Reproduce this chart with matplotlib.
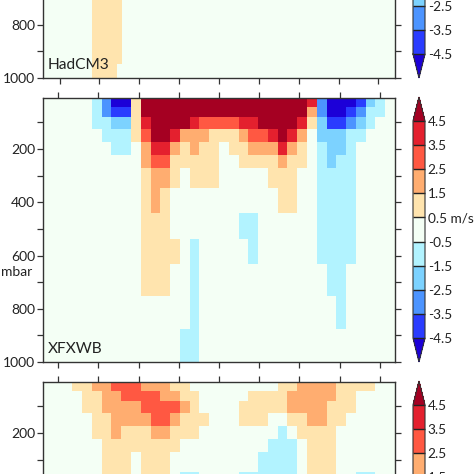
import numpy as np
import matplotlib
matplotlib.use('Agg')
import matplotlib.pyplot as plt
from matplotlib.colors import BoundaryNorm, ListedColormap

plt.rcParams['font.family'] = ['Lato', 'DejaVu Sans']

# colour classes, lowest to highest
under_color = '#1C00D8'
class_colors = ['#2A3CFF', '#4C94FF', '#7CD2FF', '#B2F3FF', '#F4FFF5',
                '#FFE4AE', '#FFAD70', '#FF5842', '#E4202E']
over_color = '#A50022'
levels = [-4.5, -3.5, -2.5, -1.5, -0.5, 0.5, 1.5, 2.5, 3.5, 4.5]

# labels that lie off the picture are left empty
had_bar_labels = ['-4.5', '-3.5', '-2.5', '', '', '', '', '', '', '']
xfxwb_bar_labels = ['-4.5', '-3.5', '-2.5', '-1.5', '-0.5', '0.5 m/s', '1.5', '2.5', '3.5', '4.5']
bottom_bar_labels = ['', '', '', '', '', '', '1.5', '2.5', '3.5', '4.5']

pressure_ticks = [100, 200, 300, 400, 500, 600, 700, 800, 900, 1000]
had_pressure_labels = ['', '', '', '', '', '', '', '800', '', '1000']
xfxwb_pressure_labels = ['', '200', '', '400', '', '600', '', '800', '', '1000']
bottom_pressure_labels = ['', '200', '', '', '', '', '', '', '', '']
lat_ticks = [-80, -60, -40, -20, 0, 20, 40, 60, 80]

# grid shared by the two lower panels
lat_edges = np.linspace(-87.5, 87.5, 37)
p_edges = [8, 42, 80, 125, 174, 223, 271, 346, 440, 538, 632, 752, 876, 1000]

# top panel has its own finer grid near the surface
had_lat_edges = [-88.3, -63.5, -51.0, -48.6, 88.3]
had_p_edges = [8, 947, 1000]
had_values = [[0, 1, 1, 0],
              [0, 1, 0, 0]]

xfxwb_values = [
    [0, 0, 0, 0, 0, -1, -3, -5, -5, 1, 5, 5, 5, 5, 5, 5, 5, 5, 5, 5, 5, 5, 5, 5, 5, 5, 5, 4, -3, -5, -5, -5, -4, -2, -1, 0],
    [0, 0, 0, 0, 0, -1, -3, -4, -4, 1, 5, 5, 5, 5, 5, 5, 5, 5, 5, 5, 5, 5, 5, 5, 5, 5, 5, 2, -3, -5, -5, -4, -3, -1, -1, 0],
    [0, 0, 0, 0, 0, -1, -1, -2, -2, 1, 4, 5, 5, 5, 5, 4, 3, 3, 3, 3, 4, 4, 5, 5, 5, 5, 4, 1, -2, -4, -4, -3, -2, -1, 0, 0],
    [0, 0, 0, 0, 0, 0, -1, -1, -1, 1, 3, 5, 5, 4, 2, 2, 2, 1, 1, 1, 2, 3, 3, 4, 5, 4, 2, 0, -2, -2, -2, -1, -1, 0, 0, 0],
    [0, 0, 0, 0, 0, 0, 0, -1, -1, 0, 2, 4, 4, 2, 1, 2, 1, 1, 0, 1, 1, 2, 2, 2, 4, 2, 1, 0, -1, -2, -2, -1, 0, 0, 0, 0],
    [0, 0, 0, 0, 0, 0, 0, 0, 0, 0, 2, 3, 3, 1, 1, 1, 1, 1, 0, 0, 1, 1, 1, 1, 2, 1, 1, 0, -1, -2, -1, -1, 0, 0, 0, 0],
    [0, 0, 0, 0, 0, 0, 0, 0, 0, 0, 1, 2, 2, 1, 0, 1, 1, 1, 0, 0, 0, 0, 0, 1, 1, 1, 0, 0, -1, -1, -1, -1, 0, 0, 0, 0],
    [0, 0, 0, 0, 0, 0, 0, 0, 0, 0, 1, 2, 1, 0, 0, 0, 0, 0, 0, 0, 0, 0, 0, 0, 1, 1, 0, 0, -1, -1, -1, -1, 0, 0, 0, 0],
    [0, 0, 0, 0, 0, 0, 0, 0, 0, 0, 1, 1, 1, 0, 0, 0, 0, 0, 0, 0, -1, -1, 0, 0, 0, 0, 0, 0, -1, -1, -1, -1, 0, 0, 0, 0],
    [0, 0, 0, 0, 0, 0, 0, 0, 0, 0, 1, 1, 1, 1, 0, -1, 0, 0, 0, 0, 0, -1, 0, 0, 0, 0, 0, 0, -1, -1, -1, -1, 0, 0, 0, 0],
    [0, 0, 0, 0, 0, 0, 0, 0, 0, 0, 1, 1, 1, 0, 0, -1, 0, 0, 0, 0, 0, 0, 0, 0, 0, 0, 0, 0, 0, -1, -1, 0, 0, 0, 0, 0],
    [0, 0, 0, 0, 0, 0, 0, 0, 0, 0, 0, 0, 0, 0, 0, -1, 0, 0, 0, 0, 0, 0, 0, 0, 0, 0, 0, 0, 0, 0, -1, 0, 0, 0, 0, 0],
    [0, 0, 0, 0, 0, 0, 0, 0, 0, 0, 0, 0, 0, 0, -1, -1, 0, 0, 0, 0, 0, 0, 0, 0, 0, 0, 0, 0, 0, 0, 0, 0, 0, 0, 0, 0],
]

# only the upper rows of the bottom panel are in the picture
bottom_values = [
    [0, 0, 0, 1, 1, 2, 2, 3, 3, 3, 2, 2, 2, 1, 1, 0, 0, 0, 0, 0, 0, 0, 0, 0, 1, 1, 2, 2, 2, 2, 1, 1, 1, 1, 0, 0],
    [0, 0, 0, 0, 1, 1, 2, 2, 3, 3, 3, 3, 2, 2, 1, 1, 0, 0, 0, 0, 0, 1, 1, 1, 1, 2, 2, 2, 2, 2, 1, 1, 0, 0, 0, 0],
    [0, 0, 0, 0, 1, 1, 2, 2, 2, 2, 3, 3, 3, 3, 2, 1, 0, 0, 0, 0, 1, 1, 1, 1, 1, 2, 2, 2, 2, 1, 1, 1, 0, 0, 0, 0],
    [0, 0, 0, 0, 0, 1, 1, 2, 2, 2, 2, 3, 3, 2, 1, 1, 1, 0, 0, 0, 1, 1, 1, 0, 0, 1, 1, 2, 2, 1, 1, 0, 0, 0, 0, 0],
    [0, 0, 0, 0, 0, 1, 1, 2, 1, 1, 1, 2, 2, 1, 1, 1, 0, 0, 0, 0, 0, 0, 0, 0, -1, 0, 1, 1, 1, 1, 0, 0, 0, 0, 0, 0],
    [0, 0, 0, 0, 0, 0, 1, 1, 1, 1, 1, 1, 1, 1, 0, 0, 0, 0, 0, 0, 0, 0, 0, -1, -1, -1, 0, 1, 1, 1, 0, 0, 0, 0, 0, 0],
    [0, 0, 0, 0, 0, 0, 1, 1, 1, 0, 1, 1, 1, 0, 0, 0, 0, 0, 0, 0, 0, 0, -1, -1, -1, -1, 0, 1, 1, 1, 0, 0, 0, 0, 0, 0],
    [0, 0, 0, 0, 0, 0, 1, 1, 1, 0, 1, 1, 1, 0, -1, -1, 0, 0, 0, 0, -1, -1, -1, -1, -1, -1, 0, 1, 1, 1, 0, 0, -1, -1, 0, 0],
]

FIG_PX = 474
LINE_COLOR = '#333333'
TEXT_COLOR = '#222222'


def px_box(left, top, right, bottom):
    """
    converts a box in picture pixels (y going down) to figure fractions
    :return: [left, bottom, width, height]
    """
    return [left / FIG_PX, 1 - bottom / FIG_PX, (right - left) / FIG_PX, (bottom - top) / FIG_PX]


def draw_panel(fig, top, x_edges, y_edges, values, half_width, p_labels, bar_labels, name=None):
    """
    draws one latitude-pressure panel and its colour bar
    :param top: the pixel row of the panel's top edge, can be off the picture
    :param half_width: half of the latitude range of the x axis
    :return: the axes
    """
    cmap = ListedColormap(class_colors)
    cmap.set_under(under_color)
    cmap.set_over(over_color)
    norm = BoundaryNorm(levels, cmap.N)

    ax = fig.add_axes(px_box(43, top, 395, top + 264))
    mesh = ax.pcolormesh(x_edges, y_edges, np.array(values), cmap=cmap, norm=norm, antialiased=False)
    ax.set_facecolor(class_colors[4])
    ax.set_xlim(-half_width, half_width)
    ax.set_ylim(1000, 8)
    ax.set_xticks(lat_ticks)
    ax.set_xticklabels([])
    ax.set_yticks(pressure_ticks)
    ax.set_yticklabels(p_labels, fontsize=10, color=TEXT_COLOR)
    ax.tick_params(axis='both', which='major', direction='out', length=4, width=0.9, color=LINE_COLOR, pad=1.5,
                   top=True, right=True, bottom=True, left=True)
    for spine in ax.spines.values():
        spine.set_linewidth(1.0)
        spine.set_color(LINE_COLOR)
    if name:
        ax.text(0.013, 0.05, name, transform=ax.transAxes, fontsize=11.2, color=TEXT_COLOR, va='center', ha='left')

    # the colour bar axes run from tip to tip of the arrows
    cax = fig.add_axes(px_box(413, top - 1, 425, top + 264))
    bar = fig.colorbar(mesh, cax=cax, extend='both', extendfrac=0.11, ticks=levels, drawedges=True)
    bar.ax.set_yticklabels(bar_labels, fontsize=9.8, color=TEXT_COLOR)
    bar.ax.tick_params(length=0, pad=2)
    bar.outline.set_linewidth(0.8)
    bar.outline.set_edgecolor(LINE_COLOR)
    bar.dividers.set_color('#222222')
    bar.dividers.set_linewidth(1.0)
    return ax


fig = plt.figure(figsize=(4.74, 4.74), dpi=100)

draw_panel(fig, -186, had_lat_edges, had_p_edges, had_values, 88.3,
           had_pressure_labels, had_bar_labels, 'HadCM3')
draw_panel(fig, 98, lat_edges, p_edges, xfxwb_values, 87.5,
           xfxwb_pressure_labels, xfxwb_bar_labels, 'XFXWB')
draw_panel(fig, 382, lat_edges, p_edges[:len(bottom_values) + 1], bottom_values, 87.5,
           bottom_pressure_labels, bottom_bar_labels)

fig.text(1 / FIG_PX, 1 - 272 / FIG_PX, 'mbar', fontsize=10, color=TEXT_COLOR, va='center', ha='left')

fig.savefig('out.png', dpi=100)
